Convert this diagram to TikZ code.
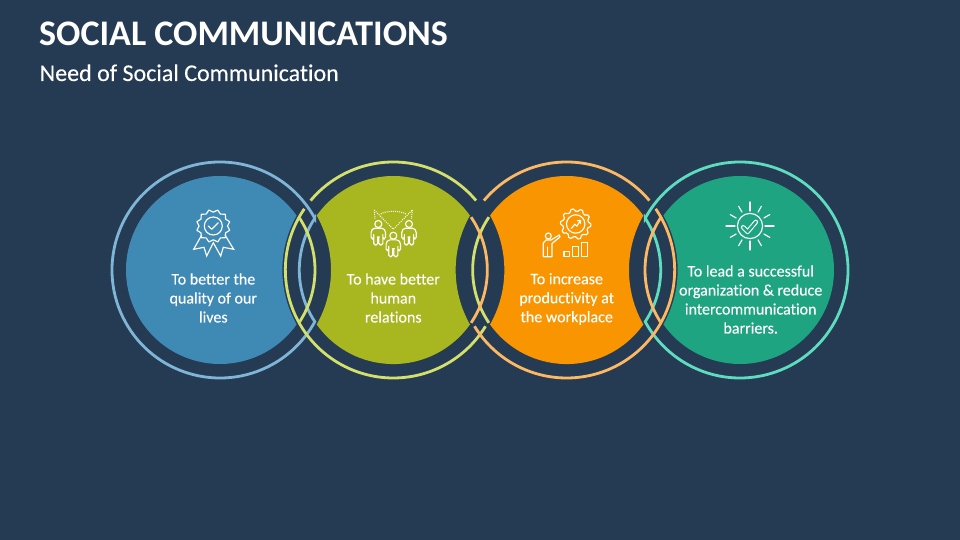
\documentclass[tikz,border=0pt]{standalone}
\usepackage{fontspec}
\setmainfont{Carlito}[Ligatures=NoCommon]
\newfontfamily\medfont{Carlito}[Ligatures=NoCommon,FakeBold=0.2]
\definecolor{bg}{HTML}{253B54}
\definecolor{fillA}{HTML}{3F8AB5}
\definecolor{fillB}{HTML}{A8B61F}
\definecolor{fillC}{HTML}{F89500}
\definecolor{fillD}{HTML}{1FA482}
\definecolor{ringA}{HTML}{7FB5D6}
\definecolor{ringB}{HTML}{D3E06C}
\definecolor{ringC}{HTML}{FDB863}
\definecolor{ringD}{HTML}{5EDCC0}
\tikzset{
  ringline/.style={line width=2.8pt,line cap=butt,line join=miter,miter limit=10},
  body/.style={text=white,align=center,font=\medfont\fontsize{16}{19}\selectfont,inner sep=0pt},
  icon/.style={draw=white,line width=1.15pt,line join=round,line cap=round},
  dots/.style={draw=white,line width=1pt,dash pattern=on 1pt off 1.1pt},
  pics/person/.style={code={
    \begin{scope}[yscale=-1]
    \draw[icon] (0,0) circle (3.5);
    \draw[icon,rounded corners=1.6pt] (0,4.2) -- (-5,4.2) -- (-7.2,7) -- (-7.2,15) -- (-4.6,15) -- (-4.6,9)
      -- (-4.6,21) -- (-0.6,21) -- (-0.6,13) -- (0.6,13) -- (0.6,21) -- (4.6,21) -- (4.6,9) -- (4.6,15)
      -- (7.2,15) -- (7.2,7) -- (5,4.2) -- cycle;
    \end{scope}
  }}
}
\begin{document}
\begin{tikzpicture}[x=1pt,y=1pt]
\useasboundingbox (0,0) rectangle (960,540);
\fill[bg] (0,0) rectangle (960,540);
% filled shapes
\fill[fillA] (220,270) ++(35.4:94) arc[start angle=35.4,end angle=324.6,radius=94pt]
  arc[start angle=209.4,end angle=150.6,radius=111pt] -- cycle;
\fill[fillB] (393.33,270) ++(144.6:94) arc[start angle=144.6,end angle=35.4,radius=94pt]
  arc[start angle=150.6,end angle=209.4,radius=111pt]
  arc[start angle=-35.4,end angle=-144.6,radius=94pt]
  arc[start angle=-29.4,end angle=29.4,radius=111pt] -- cycle;
\fill[fillC] (566.67,270) ++(144.6:94) arc[start angle=144.6,end angle=35.4,radius=94pt]
  arc[start angle=150.6,end angle=209.4,radius=111pt]
  arc[start angle=-35.4,end angle=-144.6,radius=94pt]
  arc[start angle=-29.4,end angle=29.4,radius=111pt] -- cycle;
\fill[fillD] (740,270) ++(144.6:94) arc[start angle=144.6,end angle=-144.6,radius=94pt]
  arc[start angle=-29.4,end angle=29.4,radius=111pt] -- cycle;
% rings
\draw[ringA,ringline] (220,270) ++(28.6:108) arc[start angle=28.6,end angle=331.4,radius=108pt]
  arc[start angle=213.4,end angle=146.6,radius=94pt] -- cycle;
\draw[ringD,ringline] (740,270) ++(151.4:108) arc[start angle=151.4,end angle=-151.4,radius=108pt]
  arc[start angle=-33.4,end angle=33.4,radius=94pt] -- cycle;
% second ring
\draw[ringB,ringline] (393.33,270) ++(140:108) arc[start angle=140,end angle=40,radius=108pt];
\draw[ringB,ringline] (393.33,270) ++(145.5:108) arc[start angle=145.5,end angle=328.6,radius=108pt];
\draw[ringB,ringline] (220,270) ++(-33.8:95) arc[start angle=-33.8,end angle=33.8,radius=95pt];
\draw[ringB,ringline] (566.67,270) ++(145.8:94) arc[start angle=145.8,end angle=214.2,radius=94pt];
% third ring
\draw[ringC,ringline] (566.67,270) ++(140:108) arc[start angle=140,end angle=40,radius=108pt];
\draw[ringC,ringline] (566.67,270) ++(34.5:108) arc[start angle=34.5,end angle=-148.6,radius=108pt];
\draw[ringC,ringline] (740,270) ++(146.2:95) arc[start angle=146.2,end angle=213.8,radius=95pt];
\draw[ringC,ringline] (393.33,270) ++(34.2:94) arc[start angle=34.2,end angle=-34.2,radius=94pt];
% texts
\node[anchor=base west,text=white,inner sep=0pt,font=\fontsize{36}{38}\selectfont\bfseries] (title) at (39,494.5) {SOCIAL COMMUNICATIONS};
\node[anchor=base west,text=white,inner sep=0pt,font=\medfont\fontsize{24}{26}\selectfont] (subtitle) at (39.5,459) {Need of Social Communication};
\node[body] (textA) at (213.3,242) {To better the\\quality of our\\lives};
\node[body] (textB) at (393.3,242) {To have better\\human\\relations};
\node[body] (textC) at (566.7,241) {To increase\\productivity at\\the workplace};
\node[body] (textD) at (750.7,240.5) {To lead a successful\\organization \& reduce\\intercommunication\\barriers.};
% icons, in image coordinates
\begin{scope}[shift={(0,540)},yscale=-1]
  % rosette
  \draw[icon] plot[samples at={0,15,...,345}] ({213.3+(mod(\x,30)==0?17:14.2)*cos(\x+15)},{226+(mod(\x,30)==0?16.5:13.8)*sin(\x+15)}) -- cycle;
  \draw[icon] (213.3,226) circle (9);
  \draw[icon] (208.3,226) -- (211.7,229.3) -- (218.3,222.7);
  \draw[icon,line join=miter] (201.7,235) -- (193.7,249.3) -- (204,247.3) -- (206.7,256) -- (213.3,242.7) -- (220.7,256) -- (223.3,247.3) -- (233.7,249.3) -- (225,235);
  % people
  \pic at (378.3,224) {person};
  \pic at (409,224) {person};
  \pic at (393.3,235.7) {person};
  \draw[dots] (374.3,210) -- (393.3,229.3) -- (412.3,210);
  \draw[dots] (374.3,210) -- (375,219);
  \draw[dots] (412.3,210) -- (411.5,219);
  \draw[dots] (380.7,214) .. controls (386,210.5) and (400.6,210.5) .. (406,214);
  % gear and presenter
  \draw[icon] plot[samples at={0,9,...,351}] ({575.7+(mod(\x,36)<=9?15.2:12.8)*cos(\x)},{224+(mod(\x,36)<=9?15.2:12.8)*sin(\x)}) -- cycle;
  \draw[icon] (575.7,224) circle (9.2);
  \draw[icon] (571.2,228.6) -- (574.8,224.2) -- (576.8,226.2) -- (580.2,220.8);
  \draw[icon] (577.4,220.8) -- (580.4,220.4) -- (580.6,223.4);
  \draw[icon] (548.3,236) circle (3);
  \draw[icon] (543.3,256.7) -- (543.3,243) -- (546,240) -- (551,240) -- (559.3,235) -- (560,237) -- (552,243.5) -- (552,256.7) -- cycle;
  \draw[icon] (547.6,247) -- (547.6,256.7);
  \draw[icon] (564,251.7) rectangle (569.3,256.3);
  \draw[icon] (572.7,246.7) rectangle (578.3,256.3);
  \draw[icon] (581.7,242.7) rectangle (587.3,256.3);
  % sun
  \draw[icon] (750,226) circle (12.6);
  \foreach \a in {0,90,180,270} \draw[icon] (750,226) ++(\a:15) -- ++(\a:9);
  \foreach \a in {30,60,120,150,210,240,300,330} \draw[icon] (750,226) ++(\a:16) -- ++(\a:6.8);
  \draw[white,line width=4.6pt,line join=round,line cap=round] (743.2,227.3) -- (747.6,231.8) -- (755.8,222);
  \draw[fillD,line width=2.4pt,line join=round,line cap=round] (743.2,227.3) -- (747.6,231.8) -- (755.8,222);
\end{scope}
\end{tikzpicture}
\end{document}
